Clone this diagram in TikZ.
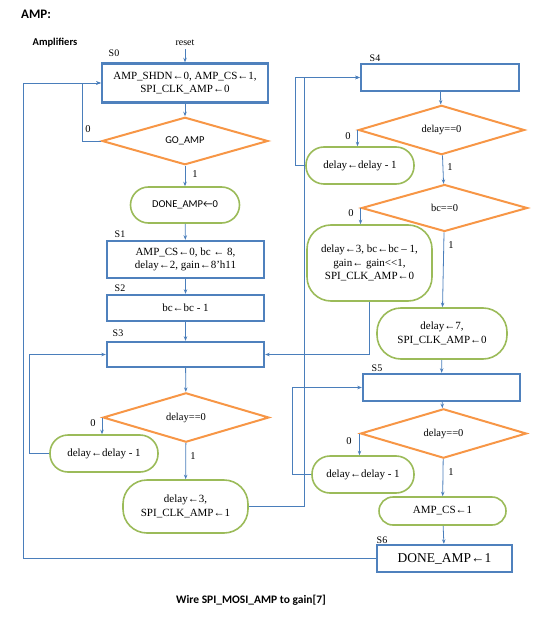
\documentclass[tikz,border=0pt]{standalone}
\usepackage{fontspec}
\setmainfont{Liberation Serif}
\newfontfamily\calfont{Carlito}
\usetikzlibrary{shapes.geometric,arrows.meta}
\definecolor{boxblue}{RGB}{79,129,189}
\definecolor{lineblue}{RGB}{74,126,187}
\definecolor{testorange}{RGB}{247,150,70}
\definecolor{termgreen}{RGB}{155,187,89}
\newcommand{\asg}{←}
\tikzset{
  statebox/.style={draw=boxblue,line width=2.4pt,inner sep=0pt,align=center,font=\fontsize{11}{13.5}\selectfont},
  test/.style={diamond,draw=testorange,line width=2pt,inner sep=0pt,minimum width=166pt,minimum height=47pt,font=\fontsize{10.5}{12}\selectfont},
  term/.style={draw=termgreen,line width=1.6pt,inner sep=0pt,rounded corners=#1,align=center,font=\fontsize{11}{13.5}\selectfont},
  term/.default=18pt,
  conn/.style={draw=lineblue,line width=0.8pt,-{Stealth[length=4.5pt,width=3.5pt]}},
  link/.style={draw=lineblue,line width=0.8pt},
  slabel/.style={font=\fontsize{10}{12}\selectfont},
  branch/.style={font=\fontsize{10.5}{12}\selectfont},
  sans/.style={font=\calfont\fontsize{10.5}{12}\selectfont}
}
\begin{document}
\begin{tikzpicture}[x=1pt,y=-1pt]
\useasboundingbox (0,0) rectangle (547,617);

% Titles
\node[font=\calfont\bfseries\fontsize{13}{15}\selectfont] (title) at (36,14) {AMP:};
\node[font=\calfont\bfseries\fontsize{10.5}{12}\selectfont] (amps) at (55,43) {Amplifiers};
\node[slabel] (reset) at (185,43) {reset};
\node[font=\calfont\bfseries\fontsize{11.5}{13}\selectfont] (mosi) at (251,600) {Wire SPI\_MOSI\_AMP to gain[7]};

% Left column
\node[slabel] (l0) at (114,53) {S0};
\node[statebox,minimum width=166pt,minimum height=39pt] (s0) at (185,83) {AMP\_SHDN\asg0, AMP\_CS\asg1,\\SPI\_CLK\_AMP\asg0};
\node[test,sans] (go) at (185,141) {GO\_AMP};
\node[term,sans,minimum width=109pt,minimum height=36pt] (done0) at (185,205) {DONE\_AMP\asg0};
\node[slabel] (l1) at (120,234) {S1};
\node[statebox,minimum width=157pt,minimum height=37pt] (s1) at (185.5,259.5) {AMP\_CS\asg0, bc \asg\ 8,\\delay\asg2, gain\asg8'h11};
\node[slabel] (l2) at (120,288) {S2};
\node[statebox,minimum width=157pt,minimum height=26pt] (s2) at (185.5,308) {bc\asg bc - 1};
\node[slabel] (l3) at (118,333) {S3};
\node[statebox,minimum width=157pt,minimum height=25pt] (s3) at (185.5,354.5) {};
\node[test] (d3) at (186,417.5) {delay==0};
\node[term,minimum width=108pt,minimum height=37pt] (w3) at (104,453.5) {delay\asg delay - 1};
\node[term=24pt,minimum width=125pt,minimum height=53pt] (c3) at (185.5,506.5) {delay\asg3,\\SPI\_CLK\_AMP\asg1};

% Right column
\node[slabel] (l4) at (375,58) {S4};
\node[statebox,minimum width=158pt,minimum height=27pt] (s4) at (440,77.5) {};
\node[test] (d4a) at (441.5,130) {delay==0};
\node[term,minimum width=108pt,minimum height=37pt] (w4) at (360,165.5) {delay\asg delay - 1};
\node[test] (d4b) at (444.5,208) {bc==0};
\node[term=24pt,minimum width=125pt,minimum height=76pt] (b4) at (369.5,263) {delay\asg3, bc\asg bc -- 1,\\gain\asg\ gain<{}<1,\\SPI\_CLK\_AMP\asg0};
\node[term=24pt,minimum width=130pt,minimum height=51pt] (c4) at (442,333.5) {delay\asg7,\\SPI\_CLK\_AMP\asg0};
\node[slabel] (l5) at (377,368) {S5};
\node[statebox,minimum width=157pt,minimum height=27pt] (s5) at (441.5,387.5) {};
\node[test] (d5) at (443.5,433.5) {delay==0};
\node[term,minimum width=102pt,minimum height=37pt] (w5) at (363,474.5) {delay\asg delay - 1};
\node[term=14pt,minimum width=127pt,minimum height=28pt] (e5) at (442.5,511) {AMP\_CS\asg1};
\node[slabel] (l6) at (382,540) {S6};
\node[statebox,minimum width=135pt,minimum height=27pt,font=\fontsize{13.5}{16}\selectfont] (s6) at (444.5,558.5) {DONE\_AMP\asg1};

% Branch labels
\node[branch] (go0) at (88,129) {0};
\node[branch] (go1) at (195,174) {1};
\node[branch] (d30) at (93,423) {0};
\node[branch] (d31) at (193,456) {1};
\node[branch] (d4a0) at (348,136) {0};
\node[branch] (d4a1) at (450,167) {1};
\node[branch] (d4b0) at (351,213) {0};
\node[branch] (d4b1) at (451,245) {1};
\node[branch] (d50) at (349,441) {0};
\node[branch] (d51) at (451,472) {1};

% Connectors
\draw[conn] (reset) -- (s0);
\draw[conn] (s0) -- (go);
\draw[conn] (go.west) -- ++(-19,0) |- (s0.west);
\draw[conn] (go) -- (done0);
\draw[conn] (done0) -- (s1);
\draw[conn] (s1) -- (s2);
\draw[conn] (s2) -- (s3);
\draw[conn] (s3) -- (d3);
\draw[conn] (d3.west) -- (d3.west |- w3.north);
\draw[conn] (w3.west) -- ++(-20,0) |- (s3.west);
\draw[conn] (d3) -- (c3);
\draw[conn] (c3.east) -- ++(56,0) |- (s4.west);
\draw[conn] (s4) -- (d4a);
\draw[conn] (d4a.west) -- (d4a.west |- w4.north);
\draw[conn] (w4.west) -- ++(-10,0) |- (s4.west);
\draw[conn] (d4a) -- (d4b);
\draw[conn] (d4b.west) -- (d4b.west |- b4.north);
\draw[conn] (b4.south) |- (s3.east);
\draw[conn] (d4b) -- (c4);
\draw[conn] (c4) -- (s5);
\draw[conn] (s5) -- (d5);
\draw[conn] (d5.west) -- (d5.west |- w5.north);
\draw[conn] (w5.west) -- ++(-19,0) |- (s5.west);
\draw[conn] (d5) -- (e5);
\draw[conn] (e5) -- (s6);
\draw[conn] (s6.west) -- ++(-352,0) |- (s0.west);
\end{tikzpicture}
\end{document}
